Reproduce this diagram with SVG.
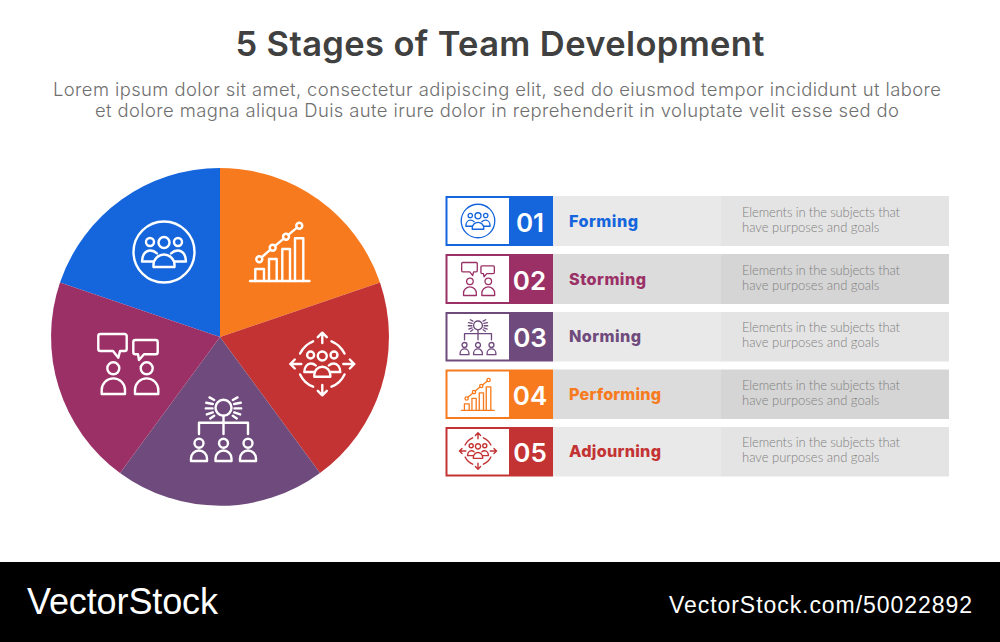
<svg xmlns="http://www.w3.org/2000/svg" width="1000" height="642" viewBox="0 0 1000 642">
<style>
.ic{fill:none;stroke:currentColor;stroke-width:2.4;stroke-linecap:round;stroke-linejoin:round}
.w{color:#fff}
.title{font:600 34.5px Inter,"Open Sans",sans-serif;fill:#404040;text-anchor:middle}
.sub{font:300 18.4px Inter,"Open Sans",sans-serif;fill:#6f6f6f;text-anchor:middle}
.num{font:600 26px Inter,"Open Sans",sans-serif;fill:#fff;text-anchor:middle}
.lab{font:800 16.2px Inter,"Open Sans",sans-serif}
.desc{font:300 13px Lato,"Open Sans",sans-serif;fill:#808080}
.mark{font:400 36px "Liberation Sans",Arial,sans-serif;fill:#fff}
.mark2{font:400 23px "Liberation Sans",Arial,sans-serif;fill:#fff}
.blue{color:#1565dc;fill:#1565dc}.mag{color:#9b3067;fill:#9b3067}.pur{color:#6f4a7c;fill:#6f4a7c}.org{color:#f77b1e;fill:#f77b1e}.red{color:#c43333;fill:#c43333}
.a1{fill:#e9e9e9}.b1{fill:#e4e4e4}.a2{fill:#dcdcdc}.b2{fill:#d5d5d5}
</style>
<defs>
<g id="i-team" class="ic">
<circle r="30.5"/>
<circle cy="-9.5" r="5.5"/><circle cx="-14" cy="-10" r="4"/><circle cx="14" cy="-10" r="4"/>
<path d="M-10.5 15V13A10.5 10.5 0 0 1 10.5 13V15Z"/>
<path d="M-10.5 9.5H-22C-22 3 -18.500 -1.500 -14 -1.500C-11 -1.500 -9 -.5 -7 1.500"/>
<path d="M10.500 9.500H22C22 3 18.500 -1.500 14 -1.500C11 -1.500 9 -.5 7 1.500"/>
</g>
<g id="i-talk" class="ic">
<path d="M-27.700 -30H-3.300a2 2 0 0 1 2 2V-15a2 2 0 0 1 -2 2H-8L-9.700 -6.300L-15 -13H-27.700a2 2 0 0 1 -2 -2V-28a2 2 0 0 1 2 -2Z"/>
<path d="M7.300 -24H27.700a2 2 0 0 1 2 2V-11.700a2 2 0 0 1 -2 2H16L11 -4L10 -9.700H7.300a2 2 0 0 1 -2 -2V-22a2 2 0 0 1 2 -2Z"/>
<circle cx="-14.700" cy="4.300" r="6"/><circle cx="18.700" cy="4.300" r="6"/>
<path d="M-26.300 30V26A11.650 11.650 0 0 1 -3 26V30Z"/>
<path d="M7 30V26A11.650 11.650 0 0 1 30.300 26V30Z"/>
</g>
<g id="i-org" class="ic">
<circle cy="-19.300" r="8"/>
<path d="M0 -11.300V7M-24.500 7V-4.300H24.500V7"/>
<circle cx="-24.500" cy="16.300" r="4.500"/><circle cy="16.300" r="4.500"/><circle cx="24.500" cy="16.300" r="4.500"/>
<path d="M-32.500 34V31.500A8 8 0 0 1 -16.500 31.500V34Z"/>
<path d="M-8 34V31.500A8 8 0 0 1 8 31.500V34Z"/>
<path d="M16.500 34V31.500A8 8 0 0 1 32.500 31.500V34Z"/>
<path transform="translate(0 -19.300)" d="M-14 -10.300L-9.300 -7.700M-17.300 -5L-10.700 -3.700M-17.700 .7H-11M-16.700 6.700L-10.700 4.700M-13.300 10.700L-9.300 8M14 -10.300L9.300 -7.700M17.300 -5L10.700 -3.700M17.700 .7H11M16.700 6.700L10.700 4.700M13.300 10.700L9.300 8"/>
</g>
<g id="i-chart" class="ic">
<path d="M-30 28H29.500"/>
<path d="M-24.700 28V16H-16V28M-11 28V6H-3.300V28M2.300 28V-4H10V28M15 28V-14.700H23.300V28"/>
<circle cx="-20.700" cy="6.300" r="3"/><circle cx="-7.300" cy="-5.300" r="3"/><circle cx="6" cy="-16.300" r="3"/><circle cx="19.300" cy="-27.300" r="3"/>
<path d="M-18.400 4.300L-9.600 -3.300M-5 -7.200L3.700 -14.400M8.300 -18.200L17 -25.400"/>
</g>
<g id="i-move" class="ic">
<circle cx="-11.700" cy="-9" r="3.500"/><circle cy="-8" r="4.500"/><circle cx="11.700" cy="-9" r="3.500"/>
<path d="M-8 12.700V10.700A8 8 0 0 1 8 10.700V12.700Z"/>
<path d="M-8.500 8H-18C-18 3 -15 -.5 -11.500 -.5C-9.500 -.5 -8 0 -6.500 1.500M8.500 8H18C18 3 15 -.5 11.500 -.5C9.500 -.5 8 0 6.500 1.500"/>
<path d="M-22.200 -10.400A24.500 24.500 0 0 1 -9.200 -22.700M9.200 -22.700A24.500 24.500 0 0 1 22.200 -10.400M22.200 10.400A24.500 24.500 0 0 1 9.200 22.700M-9.200 22.700A24.500 24.500 0 0 1 -22.200 10.400"/>
<path d="M0 -21V-31.300M-4.500 -26.800L0 -31.300L4.500 -26.800M0 21V31.300M-4.500 26.800L0 31.300L4.500 26.800M-21 0H-32M-27.500 -4.500L-32 0L-27.500 4.500M21 0H32M27.500 -4.500L32 0L27.500 4.500"/>
</g>
</defs>
<rect width="1000" height="642" fill="#fff"/>
<g id="heading">
<text class="title" x="500" y="56" textLength="529">5 Stages of Team Development</text>
<text class="sub" x="497" y="96" textLength="888">Lorem ipsum dolor sit amet, consectetur adipiscing elit, sed do eiusmod tempor incididunt ut labore</text>
<text class="sub" x="497" y="117" textLength="804">et dolore magna aliqua Duis aute irure dolor in reprehenderit in voluptate velit esse sed do</text>
</g>
<g id="connectors"/>
<g id="pie-forming"><path class="blue" d="M220 337L60 282.500A169 169 0 0 1 220 168Z"/><use href="#i-team" class="w" x="164" y="252"/></g>
<g id="pie-performing"><path class="org" d="M220 337V168A169 169 0 0 1 380 282.500Z"/><use href="#i-chart" class="w" x="280" y="253"/></g>
<g id="pie-adjourning"><path class="red" d="M220 337L380 282.500A169 169 0 0 1 320 473Z"/><use href="#i-move" class="w" x="322.300" y="364"/></g>
<g id="pie-norming"><path class="pur" d="M220 337L320 473A169 169 0 0 1 120 473Z"/><use href="#i-org" class="w" x="223.500" y="427"/></g>
<g id="pie-storming"><path class="mag" d="M220 337L120 473A169 169 0 0 1 60 282.500Z"/><use href="#i-talk" class="w" x="128" y="364"/></g>

<g id="row-1">
<rect class="a1" x="553" y="196" width="168" height="50"/><rect class="b1" x="721" y="196" width="228" height="50"/>
<rect class="blue" x="445.500" y="196" width="107.500" height="50"/><rect x="447.500" y="198" width="61.500" height="46" fill="#fff"/>
<use href="#i-team" class="blue" style="fill:none" transform="translate(478 221) scale(.55)"/>
<text class="num" x="530" y="232">01</text>
<text class="lab blue" x="569" y="227" textLength="69">Forming</text>
<text class="desc" x="742" y="217" textLength="158">Elements in the subjects that</text><text class="desc" x="742" y="232">have purposes and goals</text>
</g>
<g id="row-2">
<rect class="a2" x="553" y="254" width="168" height="50"/><rect class="b2" x="721" y="254" width="228" height="50"/>
<rect class="mag" x="445.500" y="254" width="107.500" height="50"/><rect x="447.500" y="256" width="61.500" height="46" fill="#fff"/>
<use href="#i-talk" class="mag" style="fill:none" transform="translate(478 279) scale(.55)"/>
<text class="num" x="529.500" y="290">02</text>
<text class="lab mag" x="569" y="285" textLength="77">Storming</text>
<text class="desc" x="742" y="275" textLength="158">Elements in the subjects that</text><text class="desc" x="742" y="290">have purposes and goals</text>
</g>
<g id="row-3">
<rect class="a1" x="553" y="312" width="168" height="49.500"/><rect class="b1" x="721" y="312" width="228" height="49.500"/>
<rect class="pur" x="445.500" y="312" width="107.500" height="49.500"/><rect x="447.500" y="314" width="61.500" height="45.500" fill="#fff"/>
<use href="#i-org" class="pur" style="fill:none" transform="translate(478 336) scale(.55)"/>
<text class="num" x="530" y="347">03</text>
<text class="lab pur" x="569" y="342" textLength="72">Norming</text>
<text class="desc" x="742" y="332" textLength="158">Elements in the subjects that</text><text class="desc" x="742" y="347">have purposes and goals</text>
</g>
<g id="row-4">
<rect class="a2" x="553" y="369.500" width="168" height="49.500"/><rect class="b2" x="721" y="369.500" width="228" height="49.500"/>
<rect class="org" x="445.500" y="369.500" width="107.500" height="49.500"/><rect x="447.500" y="371.500" width="61.500" height="45.500" fill="#fff"/>
<use href="#i-chart" class="org" style="fill:none" transform="translate(478 395) scale(.55)"/>
<text class="num" x="530" y="405">04</text>
<text class="lab org" x="569" y="400" textLength="92">Performing</text>
<text class="desc" x="742" y="390" textLength="158">Elements in the subjects that</text><text class="desc" x="742" y="405">have purposes and goals</text>
</g>
<g id="row-5">
<rect class="a1" x="553" y="427" width="168" height="49.500"/><rect class="b1" x="721" y="427" width="228" height="49.500"/>
<rect class="red" x="445.500" y="427" width="107.500" height="49.500"/><rect x="447.500" y="429" width="61.500" height="45.500" fill="#fff"/>
<use href="#i-move" class="red" style="fill:none" transform="translate(478 451) scale(.58)"/>
<text class="num" x="530" y="462">05</text>
<text class="lab red" x="569" y="457" textLength="92">Adjourning</text>
<text class="desc" x="742" y="447" textLength="158">Elements in the subjects that</text><text class="desc" x="742" y="462">have purposes and goals</text>
</g>
<g id="footer">
<rect y="562" width="1000" height="80" fill="#000"/>
<text class="mark" x="27" y="614" textLength="191">VectorStock</text>
<text class="mark2" x="669" y="612.500" textLength="303">VectorStock.com/50022892</text>
</g>
</svg>
